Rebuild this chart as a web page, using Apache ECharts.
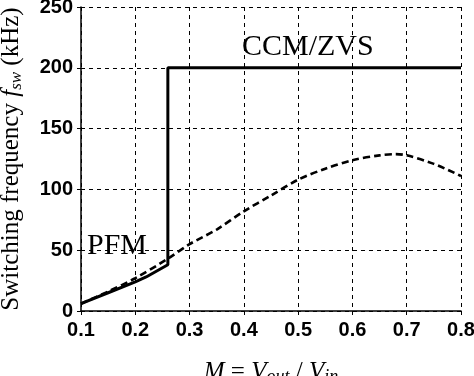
<!DOCTYPE html>
<html>
<head>
<meta charset="utf-8">
<script src="https://cdn.jsdelivr.net/npm/echarts@6/dist/echarts.min.js"></script>
<style>
  html, body { margin: 0; padding: 0; background: #fff; }
  #chart { width: 474px; height: 376px; }
</style>
</head>
<body>
<div id="chart"></div>
<script>
// 实线：PFM 段 + 跳到 CCM/ZVS 的 200 kHz
var solidM = [0.1, 0.15, 0.2, 0.22, 0.26, 0.26, 0.8];
var solidF = [6, 15, 24, 28, 38, 200, 200];
// 虚线：连续曲线
var dashM = [0.1, 0.15, 0.2, 0.26, 0.3, 0.35, 0.4, 0.45, 0.5, 0.55, 0.6, 0.65, 0.68, 0.7, 0.75, 0.8];
var dashF = [6, 16, 27, 43, 55, 67, 82, 95, 108, 117, 124, 128, 129, 128, 121, 111];
var xTicks = [0.1, 0.2, 0.3, 0.4, 0.5, 0.6, 0.7, 0.8];
var yTicks = [0, 50, 100, 150, 200, 250];

function pairs(xs, ys) {
  var out = [];
  for (var i = 0; i < xs.length; i++) out.push([xs[i], ys[i]]);
  return out;
}

var chart = echarts.init(document.getElementById('chart'));
var serif = '"Liberation Serif", "DejaVu Serif", serif';
var sans = '"Liberation Sans", Arial, sans-serif';

chart.setOption({
  animation: false,
  backgroundColor: '#fff',
  grid: { left: 81, right: 13, top: 7, bottom: 65, containLabel: false, outerBoundsMode: 'none' },
  xAxis: {
    type: 'value',
    min: 0.1, max: 0.8, interval: 0.1,
    axisLine: { lineStyle: { color: '#000', width: 1.5 } },
    axisTick: { show: true, length: 4, lineStyle: { color: '#000' } },
    axisLabel: {
      color: '#000', fontFamily: sans, fontWeight: 'bold', fontSize: 20, margin: 9,
      formatter: function (v) { return v.toFixed(1); }
    },
    splitLine: { show: true, lineStyle: { color: '#000', type: [4, 4], width: 1 } },
    name: '{i|M} = {i|V}{s|out} / {i|V}{s|in}',
    nameLocation: 'middle', nameGap: 47,
    nameTextStyle: {
      color: '#000', fontFamily: serif, fontSize: 25,
      rich: {
        i: { fontFamily: serif, fontSize: 25, fontStyle: 'italic', color: '#000' },
        s: { fontFamily: serif, fontSize: 18, fontStyle: 'italic', color: '#000', padding: [10, 0, 0, 0] }
      }
    }
  },
  yAxis: {
    type: 'value',
    min: 0, max: 250, interval: 50,
    axisLine: { show: true, lineStyle: { color: '#000', width: 1.5 } },
    axisTick: { show: true, length: 4, lineStyle: { color: '#000' } },
    axisLabel: { color: '#000', fontFamily: sans, fontWeight: 'bold', fontSize: 20, margin: 8 },
    splitLine: { show: true, lineStyle: { color: '#000', type: [4, 4], width: 1 } },
    name: 'Switching frequency {i|f}{s|sw} (kHz)',
    nameLocation: 'middle', nameGap: 56, nameRotate: 90,
    nameTextStyle: {
      color: '#000', fontFamily: serif, fontSize: 25,
      rich: {
        i: { fontFamily: serif, fontSize: 25, fontStyle: 'italic', color: '#000' },
        s: { fontFamily: serif, fontSize: 17, fontStyle: 'italic', color: '#000', padding: [10, 0, 0, 0] }
      }
    }
  },
  graphic: [
    { type: 'text', left: 242, top: 32, style: { text: 'CCM/ZVS', font: '30px ' + serif, fill: '#000' } },
    { type: 'text', left: 87, top: 231, style: { text: 'PFM', font: '30px ' + serif, fill: '#000' } }
  ],
  series: [
    {
      type: 'line', data: pairs(dashM, dashF), symbol: 'none', smooth: 0.3,
      lineStyle: { color: '#000', width: 2.6, type: [7, 4] }, z: 3
    },
    {
      type: 'line', data: pairs(solidM, solidF), symbol: 'none',
      lineStyle: { color: '#000', width: 3 }, z: 4
    }
  ]
});
</script>
</body>
</html>
